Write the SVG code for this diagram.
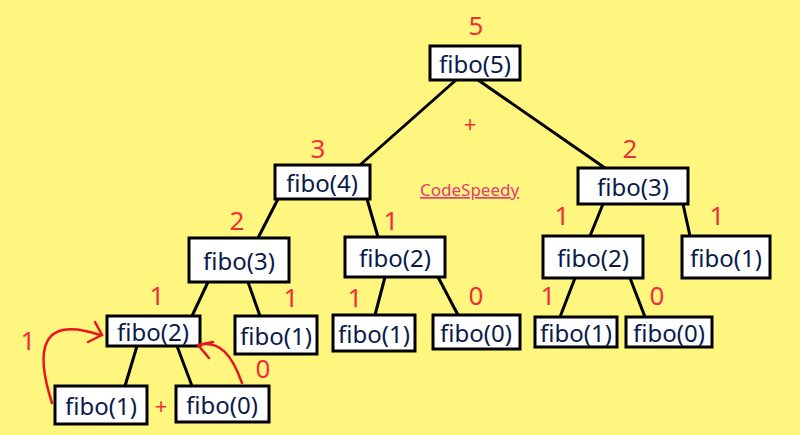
<svg xmlns="http://www.w3.org/2000/svg" width="800" height="435" viewBox="0 0 800 435">
<style>
.n rect{fill:#fff;stroke:#000;stroke-width:3}
.n text{font-family:"Noto Sans","Open Sans",sans-serif;font-size:24px;fill:#0a1a4a;text-anchor:middle;dominant-baseline:central}
.e line{stroke:#000;stroke-width:3}
.r{font-family:"Noto Sans",sans-serif;font-size:26px;fill:#f0303c;text-anchor:middle}
.a{fill:none;stroke:#e8141e;stroke-width:2.5;stroke-linecap:round}
</style>
<rect width="800" height="435" fill="#fff67f"/>
<g class="e">
<line x1="456" y1="80" x2="360" y2="165"/><line x1="478" y1="80" x2="605" y2="168"/>
<line x1="278" y1="199" x2="258" y2="238"/><line x1="367" y1="199" x2="378" y2="237"/>
<line x1="603" y1="204" x2="590" y2="236"/><line x1="683" y1="204" x2="690" y2="236"/>
<line x1="208" y1="282" x2="192" y2="316"/><line x1="248" y1="282" x2="260" y2="316"/>
<line x1="385" y1="277" x2="375" y2="315"/><line x1="438" y1="277" x2="458" y2="315"/>
<line x1="575" y1="278" x2="560" y2="317"/><line x1="630" y1="278" x2="645" y2="317"/>
<line x1="137" y1="346" x2="125" y2="386"/><line x1="177" y1="346" x2="192" y2="386"/>
</g>
<g id="f5" class="n"><rect x="430" y="46" width="90" height="34"/><text x="475" y="63">fibo(5)</text></g>
<g id="f4" class="n"><rect x="275" y="165" width="95" height="34"/><text x="322" y="182">fibo(4)</text></g>
<g id="f3r" class="n"><rect x="578" y="168" width="110" height="36"/><text x="633" y="186">fibo(3)</text></g>
<g id="f3l" class="n"><rect x="189" y="238" width="100" height="44"/><text x="239" y="260">fibo(3)</text></g>
<g id="f2m" class="n"><rect x="345" y="237" width="100" height="40"/><text x="395" y="257">fibo(2)</text></g>
<g id="f2r" class="n"><rect x="543" y="236" width="100" height="42"/><text x="593" y="257">fibo(2)</text></g>
<g id="f1rr" class="n"><rect x="682" y="236" width="88" height="42"/><text x="726" y="257">fibo(1)</text></g>
<g id="f2ll" class="n"><rect x="107" y="316" width="93" height="30"/><text x="153" y="331">fibo(2)</text></g>
<g id="f1l" class="n"><rect x="235" y="316" width="82" height="38"/><text x="276" y="335">fibo(1)</text></g>
<g id="f1m" class="n"><rect x="333" y="315" width="82" height="36"/><text x="374" y="333">fibo(1)</text></g>
<g id="f0m" class="n"><rect x="433" y="315" width="87" height="34"/><text x="476" y="332">fibo(0)</text></g>
<g id="f1r" class="n"><rect x="535" y="317" width="82" height="30"/><text x="576" y="332">fibo(1)</text></g>
<g id="f0r" class="n"><rect x="626" y="317" width="86" height="30"/><text x="669" y="332">fibo(0)</text></g>
<g id="f1b" class="n"><rect x="55" y="386" width="92" height="38"/><text x="101" y="405">fibo(1)</text></g>
<g id="f0b" class="n"><rect x="176" y="386" width="93" height="36"/><text x="222" y="404">fibo(0)</text></g>
<g>
<text class="r" x="476" y="35">5</text><text class="r" x="318" y="158">3</text><text class="r" x="630" y="158">2</text>
<text class="r" x="470" y="132" style="font-size:22px">+</text>
<text class="r" x="237" y="230">2</text><text class="r" x="391" y="230">1</text><text class="r" x="562" y="225">1</text><text class="r" x="717" y="225">1</text>
<text class="r" x="157" y="305">1</text><text class="r" x="291" y="307">1</text><text class="r" x="355" y="307">1</text><text class="r" x="476" y="305">0</text>
<text class="r" x="548" y="305">1</text><text class="r" x="657" y="305">0</text><text class="r" x="28" y="350">1</text><text class="r" x="263" y="378">0</text>
<text class="r" x="161" y="414" style="font-size:22px">+</text>
<text x="420" y="196" style="font-family:'Noto Sans',sans-serif;font-size:17px;fill:#e83a78;text-decoration:underline">CodeSpeedy</text>
</g>
<path class="a" d="M52,403 C35,350 40,315 100,335"/>
<path class="a" d="M88,342 L102,335 L95,322"/>
<path class="a" d="M242,383 C232,355 220,340 198,345"/>
<path class="a" d="M209,358 L198,345 L213,342"/>
</svg>
